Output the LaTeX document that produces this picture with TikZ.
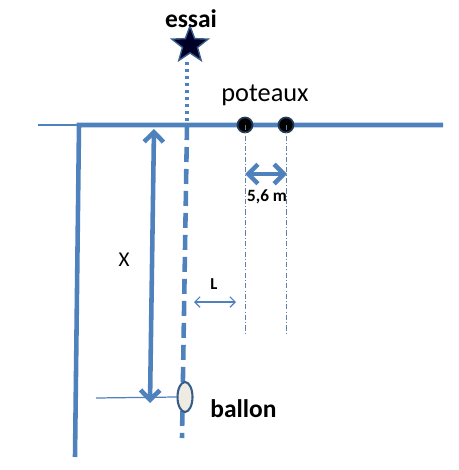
\documentclass[tikz,border=0pt]{standalone}
\usepackage{fontspec}
\setmainfont{Carlito}
\usetikzlibrary{calc,arrows.meta,shapes.geometric}
\definecolor{wallblue}{HTML}{4F81BD}
\definecolor{darkblue}{HTML}{385D8A}
\definecolor{balltan}{HTML}{EEECE1}
\newcommand{\linew}{2.6pt}

\begin{document}
\begin{tikzpicture}[x=0.02cm,y=-0.02cm,
    wall/.style={draw=wallblue,line width=\linew},
    thinwall/.style={draw=wallblue,line width=0.7pt},
    bigarrow/.style={wall,{Straight Barb[length=5.5pt,width=11pt]}-{Straight Barb[length=5.5pt,width=11pt]}},
    smallarrow/.style={thinwall,{Straight Barb[length=3pt,width=6pt]}-{Straight Barb[length=3pt,width=6pt]}},
    postline/.style={draw=wallblue!60!gray,line width=0.5pt,dash pattern=on 3pt off 1.2pt on 0.6pt off 1.2pt},
    post/.style={circle,fill=black,draw=darkblue!60!black,line width=1pt,inner sep=0pt,minimum size=0.3cm},
    label/.style={inner sep=0pt,font=\fontsize{14}{16}\selectfont}]
  \useasboundingbox (0,0) rectangle (459,470);

  % walls
  \coordinate (lineStart) at (38,125);
  \coordinate (corner) at (79,125);
  \coordinate (wallEnd) at (75,457);
  \coordinate (lineEnd) at (443,125);
  \draw[thinwall] (lineStart) -- (corner);
  \draw[wall] (wallEnd) -- (corner) -- (lineEnd);

  % essai and its line
  \node[star,star points=5,star point ratio=2.4,minimum size=0.76cm,inner sep=0pt,
        fill=black!85!blue,draw=darkblue,line width=0.8pt] (essai) at (190,45) {};
  \node[label,font=\fontsize{14.5}{16}\selectfont\bfseries] (essaitxt) at (191,19) {essai};
  \coordinate (dotTop) at (187,62);
  \coordinate (dotBot) at (187,125);
  \coordinate (dashBot) at (182,438);
  \draw[wall,dash pattern=on 1.6pt off 2.4pt] (dotTop) -- (dotBot);
  \draw[wall,dash pattern=on 0.3cm off 0.14cm] (dotBot) -- (dashBot);

  % poteaux
  \foreach \x/\n in {245/p1,286/p2} {
    \node[post] (\n) at (\x,125) {};
    \coordinate (\n bot) at (\x,333);
    \draw[postline] (\n.center) -- (\n bot);
  }
  \node[label,font=\fontsize{15}{17}\selectfont] (poteaux) at (265,95) {poteaux};
  \coordinate (gapL) at (245,174);
  \coordinate (gapR) at (287,174);
  \draw[bigarrow] (gapL) -- (gapR);
  \node[label,font=\fontsize{9.8}{11}\selectfont\bfseries] (gaptxt) at (267,197) {5,6 m};

  % L
  \coordinate (lL) at (194,302);
  \coordinate (lR) at (236,302);
  \draw[smallarrow] (lL) -- (lR);
  \node[label,font=\fontsize{9.5}{11}\selectfont\bfseries] (ltxt) at (214,284) {L};

  % ballon and X
  \node[ellipse,fill=balltan,draw=darkblue,line width=1.2pt,minimum width=0.3cm,
        minimum height=0.6cm,inner sep=0pt] (ballon) at (185,397) {};
  \node[label,anchor=west,font=\fontsize{14.5}{16}\selectfont\bfseries] (ballontxt) at (210,409) {ballon};
  \coordinate (ballLine) at (96,398);
  \draw[thinwall] (ballLine) -- (ballon.west);
  \coordinate (xTop) at (154,129);
  \coordinate (xBot) at (150,403);
  \draw[bigarrow] (xBot) -- (xTop);
  \node[label,font=\fontsize{12}{14}\selectfont] (xtxt) at (124,260) {X};
\end{tikzpicture}
\end{document}
